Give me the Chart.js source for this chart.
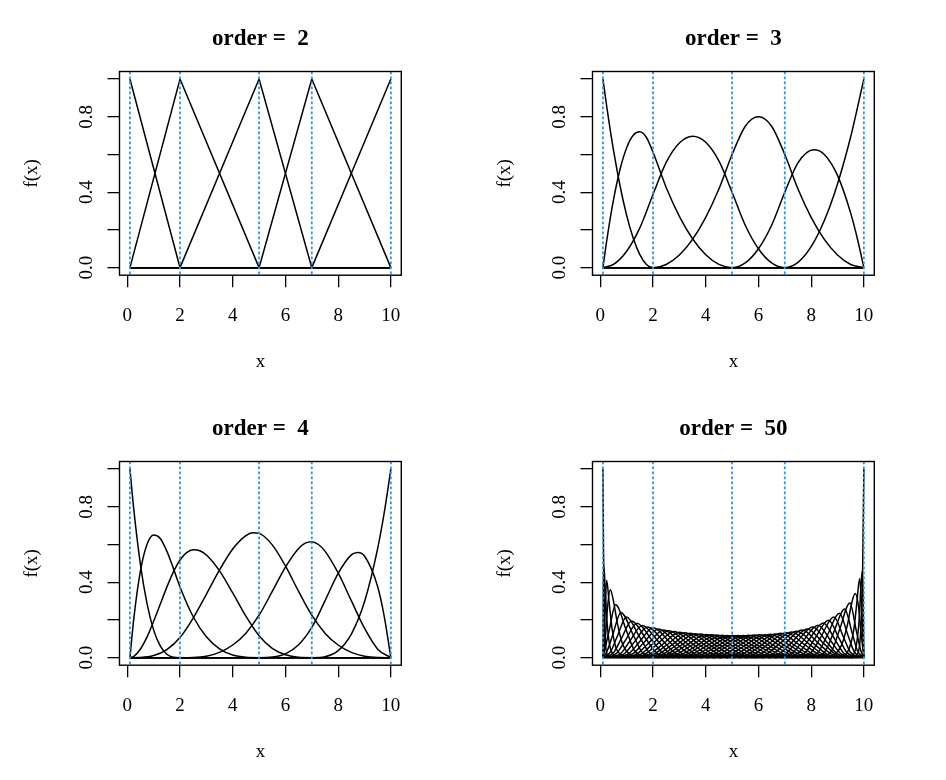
<!DOCTYPE html>
<html>
<head>
<meta charset="utf-8">
<script src="https://cdn.jsdelivr.net/npm/chart.js@4.4.1/dist/chart.umd.min.js"></script>
<style>
  html, body { margin: 0; padding: 0; background: #fff; }
  #wrap { position: relative; width: 946px; height: 780px; overflow: hidden; }
  canvas { position: absolute; }
</style>
</head>
<body>
<div id="wrap">
  <canvas id="p2" width="473" height="390" style="left:0;top:0"></canvas>
  <canvas id="p3" width="473" height="390" style="left:473px;top:0"></canvas>
  <canvas id="p4" width="473" height="390" style="left:0;top:390px"></canvas>
  <canvas id="p50" width="473" height="390" style="left:473px;top:390px"></canvas>
</div>
<script>
// knots (blue dotted lines) and axis ticks
const knots = [0.1, 2, 5, 7, 10];
const xTicks = [0, 2, 4, 6, 8, 10];
const yTicks = [0, 0.2, 0.4, 0.6, 0.8, 1];
const yLabelTicks = [0, 0.4, 0.8];
const yLabels = ['0.0', '0.4', '0.8'];
const xRange = [-0.296, 10.396];
const yRange = [-0.04, 1.04];
const baseline = [[0.1, 0], [10, 0]];

// basis functions, [x, f(x)]
const order2 = [
  [[0.1, 1], [2, 0], [10, 0]],
  [[0.1, 0], [2, 1], [5, 0], [10, 0]],
  [[0.1, 0], [2, 0], [5, 1], [7, 0], [10, 0]],
  [[0.1, 0], [5, 0], [7, 1], [10, 0]],
  [[0.1, 0], [7, 0], [10, 1]]
];

const order3 = [
  [[0.1, 1], [0.25, 0.848], [0.5, 0.623], [0.75, 0.433], [1, 0.277], [1.25, 0.156], [1.5, 0.069], [1.75, 0.017], [2, 0], [10, 0]],
  [[0.1, 0], [0.25, 0.149], [0.5, 0.359], [0.75, 0.522], [1, 0.636], [1.25, 0.702], [1.5, 0.72], [1.75, 0.69], [2, 0.612], [2.5, 0.425], [3, 0.272], [3.5, 0.153], [4, 0.068], [4.5, 0.017], [5, 0], [10, 0]],
  [[0.1, 0], [0.5, 0.017], [1, 0.087], [1.5, 0.211], [2, 0.388], [2.5, 0.558], [3, 0.661], [3.5, 0.697], [4, 0.665], [4.5, 0.566], [5, 0.4], [5.5, 0.225], [6, 0.1], [6.5, 0.025], [7, 0], [10, 0]],
  [[0.1, 0], [2, 0], [2.5, 0.017], [3, 0.067], [3.5, 0.15], [4, 0.267], [4.5, 0.417], [5, 0.6], [5.5, 0.75], [6, 0.8], [6.5, 0.75], [7, 0.6], [7.5, 0.417], [8, 0.267], [8.5, 0.15], [9, 0.067], [9.5, 0.017], [10, 0]],
  [[0.1, 0], [5, 0], [5.5, 0.025], [6, 0.1], [6.5, 0.225], [7, 0.4], [7.5, 0.556], [8.1, 0.625], [8.5, 0.6], [9, 0.489], [9.5, 0.289], [9.75, 0.156], [10, 0]],
  [[0.1, 0], [7, 0], [7.5, 0.028], [8, 0.111], [8.5, 0.25], [9, 0.444], [9.5, 0.694], [10, 1]]
];

const order4 = [
  [[0.1, 1], [0.25, 0.781], [0.5, 0.492], [0.75, 0.285], [1, 0.146], [1.25, 0.062], [1.5, 0.018], [1.75, 0.002], [2, 0], [10, 0]],
  [[0.1, 0], [0.25, 0.211], [0.5, 0.461], [0.75, 0.601], [1, 0.65], [1.25, 0.632], [1.5, 0.565], [1.75, 0.473], [2, 0.375], [2.5, 0.217], [3, 0.111], [3.5, 0.047], [4, 0.014], [4.5, 0.002], [5, 0], [10, 0]],
  [[0.1, 0], [0.25, 0.007], [0.5, 0.046], [0.75, 0.11], [1, 0.193], [1.25, 0.283], [1.5, 0.374], [1.75, 0.455], [2, 0.518], [2.25, 0.557], [2.5, 0.572], [2.75, 0.567], [3, 0.544], [3.5, 0.46], [4, 0.343], [4.5, 0.22], [5, 0.116], [5.5, 0.049], [6, 0.015], [6.5, 0.002], [7, 0], [10, 0]],
  [[0.1, 0], [0.5, 0.001], [1, 0.011], [1.5, 0.043], [2, 0.107], [2.5, 0.21], [3, 0.336], [3.5, 0.465], [4, 0.576], [4.5, 0.647], [4.75, 0.662], [5, 0.659], [5.5, 0.598], [6, 0.486], [6.5, 0.351], [7, 0.225], [7.5, 0.13], [8, 0.067], [8.5, 0.028], [9, 0.008], [9.5, 0.001], [10, 0]],
  [[0.1, 0], [2, 0], [2.5, 0.001], [3, 0.008], [3.5, 0.028], [4, 0.067], [4.5, 0.13], [5, 0.225], [5.5, 0.351], [6, 0.48], [6.5, 0.579], [6.75, 0.607], [7, 0.615], [7.25, 0.6], [7.5, 0.565], [8, 0.449], [8.5, 0.302], [9, 0.156], [9.5, 0.045], [10, 0]],
  [[0.1, 0], [5, 0], [5.5, 0.003], [6, 0.02], [6.5, 0.068], [7, 0.16], [7.5, 0.301], [8, 0.447], [8.5, 0.545], [8.75, 0.558], [9, 0.539], [9.5, 0.376], [9.75, 0.218], [10, 0]],
  [[0.1, 0], [7, 0], [7.5, 0.005], [8, 0.037], [8.5, 0.125], [9, 0.296], [9.5, 0.579], [9.75, 0.77], [10, 1]]
];

const order50 = [
  [[0.1, 1], [0.12, 0.6], [0.15, 0.27], [0.2, 0.076], [0.25, 0.02], [0.35, 0]],
  [[0.1, 0], [0.115, 0.36], [0.14, 0.48], [0.18, 0.38], [0.25, 0.2], [0.35, 0.07], [0.5, 0.015], [0.7, 0]],
  [[0.1, 0], [0.17, 0.2], [0.24, 0.41], [0.33, 0.3], [0.45, 0.15], [0.6, 0.05], [0.8, 0.015], [1.1, 0]],
  [[0.1, 0], [0.2, 0.12], [0.27, 0.26], [0.38, 0.36], [0.5, 0.3], [0.65, 0.18], [0.85, 0.07], [1.1, 0.02], [1.6, 0]],
  [[0.1, 0], [0.16, 0.038], [0.33, 0.14], [0.58, 0.28], [1.0, 0.14], [1.29, 0.038], [1.74, 0]],
  [[0.1, 0], [0.25, 0.032], [0.47, 0.12], [0.78, 0.24], [1.25, 0.12], [1.57, 0.032], [2.08, 0]],
  [[0.1, 0], [0.38, 0.029], [0.63, 0.108], [0.99, 0.215], [1.5, 0.108], [1.85, 0.029], [2.41, 0]],
  [[0.1, 0], [0.5, 0.026], [0.79, 0.098], [1.19, 0.195], [1.74, 0.098], [2.12, 0.026], [2.73, 0]],
  [[0.14, 0], [0.63, 0.025], [0.95, 0.091], [1.39, 0.182], [1.97, 0.091], [2.37, 0.025], [3.01, 0]],
  [[0.25, 0], [0.78, 0.023], [1.11, 0.086], [1.59, 0.171], [2.2, 0.086], [2.63, 0.023], [3.3, 0]],
  [[0.36, 0], [0.92, 0.022], [1.28, 0.081], [1.79, 0.162], [2.43, 0.081], [2.87, 0.022], [3.57, 0]],
  [[0.49, 0], [1.08, 0.021], [1.46, 0.079], [2.0, 0.158], [2.66, 0.079], [3.12, 0.021], [3.85, 0]],
  [[0.61, 0], [1.23, 0.021], [1.63, 0.076], [2.2, 0.152], [2.88, 0.076], [3.36, 0.021], [4.1, 0]],
  [[0.74, 0], [1.39, 0.02], [1.81, 0.074], [2.4, 0.147], [3.1, 0.074], [3.59, 0.02], [4.35, 0]],
  [[0.86, 0], [1.54, 0.019], [1.98, 0.072], [2.6, 0.143], [3.32, 0.072], [3.82, 0.019], [4.61, 0]],
  [[0.99, 0], [1.7, 0.019], [2.15, 0.07], [2.8, 0.139], [3.53, 0.07], [4.04, 0.019], [4.84, 0]],
  [[1.12, 0], [1.86, 0.018], [2.34, 0.068], [3.01, 0.135], [3.76, 0.068], [4.28, 0.018], [5.1, 0]],
  [[1.26, 0], [2.02, 0.018], [2.51, 0.066], [3.21, 0.132], [3.97, 0.066], [4.5, 0.018], [5.33, 0]],
  [[1.39, 0], [2.18, 0.017], [2.69, 0.065], [3.41, 0.129], [4.18, 0.065], [4.71, 0.017], [5.56, 0]],
  [[1.52, 0], [2.34, 0.017], [2.86, 0.064], [3.61, 0.127], [4.39, 0.064], [4.93, 0.017], [5.79, 0]],
  [[1.66, 0], [2.51, 0.017], [3.04, 0.063], [3.81, 0.125], [4.59, 0.063], [5.14, 0.017], [6.0, 0]],
  [[1.81, 0], [2.68, 0.017], [3.23, 0.062], [4.02, 0.123], [4.81, 0.062], [5.36, 0.017], [6.23, 0]],
  [[1.97, 0], [2.86, 0.016], [3.42, 0.061], [4.22, 0.121], [5.02, 0.061], [5.58, 0.016], [6.47, 0]],
  [[2.16, 0], [3.05, 0.016], [3.61, 0.06], [4.42, 0.12], [5.23, 0.06], [5.8, 0.016], [6.69, 0]],
  [[2.34, 0], [3.23, 0.016], [3.8, 0.06], [4.62, 0.119], [5.44, 0.06], [6.01, 0.016], [6.91, 0]],
  [[2.52, 0], [3.42, 0.016], [4.0, 0.059], [4.82, 0.118], [5.64, 0.059], [6.22, 0.016], [7.12, 0]],
  [[2.73, 0], [3.63, 0.016], [4.21, 0.059], [5.03, 0.118], [5.85, 0.059], [6.43, 0.016], [7.33, 0]],
  [[2.93, 0], [3.83, 0.016], [4.41, 0.059], [5.23, 0.118], [6.05, 0.059], [6.63, 0.016], [7.53, 0]],
  [[3.13, 0], [4.03, 0.016], [4.61, 0.059], [5.43, 0.118], [6.25, 0.059], [6.83, 0.016], [7.73, 0]],
  [[3.35, 0], [4.24, 0.016], [4.81, 0.06], [5.63, 0.119], [6.45, 0.06], [7.02, 0.016], [7.92, 0]],
  [[3.57, 0], [4.46, 0.016], [5.02, 0.06], [5.83, 0.12], [6.64, 0.06], [7.21, 0.016], [8.1, 0]],
  [[3.79, 0], [4.68, 0.016], [5.24, 0.061], [6.04, 0.121], [6.84, 0.061], [7.4, 0.016], [8.29, 0]],
  [[4.03, 0], [4.9, 0.016], [5.45, 0.061], [6.24, 0.122], [7.03, 0.061], [7.58, 0.016], [8.45, 0]],
  [[4.27, 0], [5.12, 0.017], [5.67, 0.062], [6.44, 0.124], [7.22, 0.062], [7.76, 0.017], [8.61, 0]],
  [[4.51, 0], [5.35, 0.017], [5.88, 0.063], [6.64, 0.126], [7.4, 0.063], [7.94, 0.017], [8.77, 0]],
  [[4.76, 0], [5.58, 0.017], [6.1, 0.065], [6.84, 0.129], [7.58, 0.065], [8.11, 0.017], [8.92, 0]],
  [[5.01, 0], [5.81, 0.018], [6.32, 0.066], [7.05, 0.132], [7.78, 0.066], [8.29, 0.018], [9.09, 0]],
  [[5.28, 0], [6.05, 0.018], [6.55, 0.068], [7.25, 0.136], [7.96, 0.068], [8.45, 0.018], [9.22, 0]],
  [[5.55, 0], [6.3, 0.019], [6.77, 0.07], [7.45, 0.14], [8.13, 0.07], [8.6, 0.019], [9.35, 0]],
  [[5.83, 0], [6.55, 0.02], [7.0, 0.073], [7.65, 0.146], [8.3, 0.073], [8.76, 0.02], [9.47, 0]],
  [[6.11, 0], [6.8, 0.021], [7.23, 0.076], [7.85, 0.152], [8.47, 0.076], [8.9, 0.021], [9.59, 0]],
  [[6.36, 0], [7.03, 0.022], [7.45, 0.082], [8.06, 0.163], [8.6, 0.082], [8.98, 0.022], [9.57, 0]],
  [[6.63, 0], [7.27, 0.023], [7.68, 0.086], [8.26, 0.172], [8.76, 0.086], [9.11, 0.023], [9.65, 0]],
  [[6.9, 0], [7.52, 0.025], [7.9, 0.092], [8.46, 0.184], [8.92, 0.092], [9.23, 0.025], [9.73, 0]],
  [[7.19, 0], [7.77, 0.027], [8.13, 0.099], [8.66, 0.198], [9.07, 0.099], [9.36, 0.027], [9.82, 0]],
  [[7.47, 0], [8.01, 0.029], [8.36, 0.108], [8.86, 0.215], [9.23, 0.108], [9.49, 0.029], [9.89, 0]],
  [[7.77, 0], [8.28, 0.032], [8.61, 0.118], [9.07, 0.235], [9.4, 0.118], [9.63, 0.032], [9.99, 0]],
  [[8.06, 0], [8.54, 0.035], [8.84, 0.129], [9.27, 0.258], [9.56, 0.129], [9.76, 0.035], [10, 0]],
  [[8.35, 0], [8.79, 0.039], [9.07, 0.145], [9.47, 0.29], [9.71, 0.145], [9.88, 0.039], [10, 0]],
  [[8.55, 0], [8.88, 0.014], [9.15, 0.065], [9.37, 0.17], [9.54, 0.29], [9.67, 0.34], [9.79, 0.28], [9.88, 0.15], [10, 0]],
  [[9.0, 0], [9.25, 0.01], [9.45, 0.05], [9.62, 0.15], [9.74, 0.3], [9.84, 0.42], [9.93, 0.22], [10, 0]],
  [[9.4, 0], [9.6, 0.015], [9.72, 0.07], [9.82, 0.2], [9.89, 0.38], [9.94, 0.46], [9.97, 0.33], [10, 0]],
  [[9.6, 0], [9.7, 0.007], [9.8, 0.035], [9.85, 0.08], [9.9, 0.19], [9.95, 0.43], [10, 1]]
];

const serif = '"Liberation Serif", "DejaVu Serif", serif';

// R-style frame: box, dotted knot lines, title, axis titles, rotated y labels
const rFrame = {
  id: 'rFrame',
  afterDatasetsDraw(chart) {
    const { ctx, chartArea: a, scales: { x } } = chart;
    ctx.save();
    ctx.strokeStyle = '#3394e6';
    ctx.lineWidth = 1.8;
    ctx.setLineDash([2.7, 2.3]);
    knots.forEach(k => {
      const px = x.getPixelForValue(k);
      ctx.beginPath();
      ctx.moveTo(px, a.top);
      ctx.lineTo(px, a.bottom);
      ctx.stroke();
    });
    ctx.restore();
  },
  afterDraw(chart, args, opts) {
    const { ctx, chartArea: a, scales: { y } } = chart;
    const cx = (a.left + a.right) / 2;
    const cy = (a.top + a.bottom) / 2;
    ctx.save();
    ctx.strokeStyle = '#000';
    ctx.lineWidth = 1.4;
    ctx.strokeRect(a.left, a.top, a.right - a.left, a.bottom - a.top);

    ctx.fillStyle = '#000';
    ctx.textAlign = 'center';
    ctx.textBaseline = 'alphabetic';
    ctx.font = 'bold 23px ' + serif;
    ctx.fillText(opts.title, cx, a.top - 26.5);

    ctx.font = '19px ' + serif;
    ctx.fillText('x', cx, a.bottom + 91.5);

    yLabelTicks.forEach((v, i) => {
      ctx.save();
      ctx.translate(a.left - 27.8, y.getPixelForValue(v));
      ctx.rotate(-Math.PI / 2);
      ctx.fillText(yLabels[i], 0, 0);
      ctx.restore();
    });

    ctx.translate(a.left - 82.5, cy);
    ctx.rotate(-Math.PI / 2);
    ctx.fillText('f(x)', 0, 0);
    ctx.restore();
  }
};

const panels = [
  { id: 'p2', order: 2, curves: order2, smooth: false },
  { id: 'p3', order: 3, curves: order3, smooth: true },
  { id: 'p4', order: 4, curves: order4, smooth: true },
  { id: 'p50', order: 50, curves: order50, smooth: true }
];

panels.forEach(p => {
  const series = [baseline].concat(p.curves);
  new Chart(document.getElementById(p.id), {
    type: 'line',
    data: {
      datasets: series.map(c => ({
        data: c.map(([x, y]) => ({ x, y })),
        borderColor: '#000',
        borderWidth: 1.5,
        pointRadius: 0,
        fill: false,
        cubicInterpolationMode: p.smooth ? 'monotone' : 'default',
        tension: 0
      }))
    },
    options: {
      responsive: false,
      animation: false,
      events: [],
      layout: { padding: { left: 107.5, right: 71.7, top: 71.5, bottom: 0 } },
      plugins: {
        legend: { display: false },
        tooltip: { enabled: false },
        rFrame: { title: 'order =  ' + p.order }
      },
      scales: {
        x: {
          type: 'linear',
          min: xRange[0],
          max: xRange[1],
          afterBuildTicks: s => { s.ticks = xTicks.map(v => ({ value: v })); },
          afterFit: s => { s.height = 114.8; },
          ticks: {
            color: '#000',
            font: { family: serif, size: 19 },
            padding: 17,
            maxRotation: 0,
            callback: v => String(v)
          },
          grid: { drawOnChartArea: false, tickLength: 12, color: '#000', lineWidth: 1.3 },
          border: { display: false }
        },
        y: {
          type: 'linear',
          min: yRange[0],
          max: yRange[1],
          afterBuildTicks: s => { s.ticks = yTicks.map(v => ({ value: v })); },
          afterFit: s => { s.width = 12; },
          ticks: { display: false },
          grid: { drawOnChartArea: false, tickLength: 12, color: '#000', lineWidth: 1.3 },
          border: { display: false }
        }
      }
    },
    plugins: [rFrame]
  });
});
</script>
</body>
</html>
